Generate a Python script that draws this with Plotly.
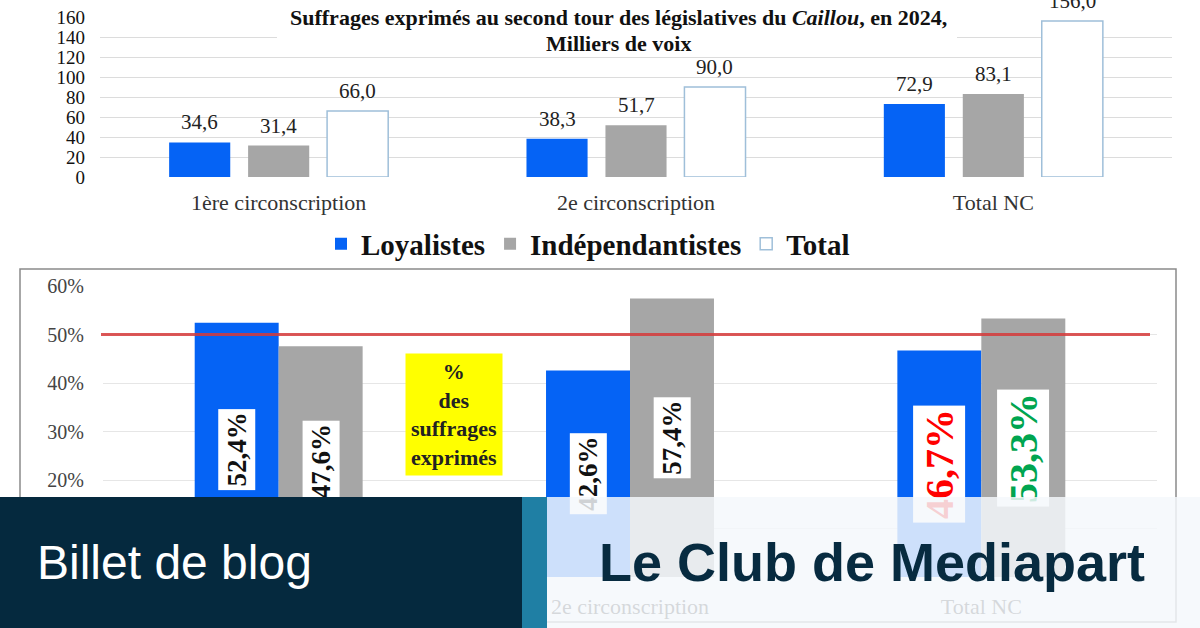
import plotly.graph_objects as go

# ---------------- data ----------------
categories = ["1ère circonscription", "2e circonscription", "Total NC"]
series_names = ["Loyalistes", "Indépendantistes", "Total"]
voix_loyalistes = [34.6, 38.3, 72.9]
voix_independantistes = [31.4, 51.7, 83.1]
voix_total = [66.0, 90.0, 156.0]
pct_loyalistes = [0.524, 0.426, 0.467]
pct_independantistes = [0.476, 0.574, 0.533]
voix_ticks = [0, 20, 40, 60, 80, 100, 120, 140, 160]
pct_ticks = [0, 0.1, 0.2, 0.3, 0.4, 0.5, 0.6]
majority = 0.5
title_line1 = "Suffrages exprimés au second tour des législatives du <i>Caillou</i>, en 2024,"
title_line2 = "Milliers de voix"
note_text = "%<br>des<br>suffrages<br>exprimés"
banner_left = "Billet de blog"
banner_right = "Le Club de Mediapart"

# ---------------- style ----------------
W, H = 1200, 628
BLUE = "#0563F5"
GREY = "#A6A6A6"
TOTAL_LINE = "#9FBFD9"
GRID = "#DCDCDC"
SERIF = "Liberation Serif, Times New Roman, serif"
SANS = "Liberation Sans, Arial, sans-serif"
NAVY = "#05293E"


def px(x):
    return x / W


def py(y):
    return 1 - y / H


# bar geometry (category units)
top_w = 0.171
top_pitch = 0.221
top_offsets = [-top_pitch - top_w / 2, -top_w / 2, top_pitch - top_w / 2]
bot_w = 0.239
bot_offsets = [-bot_w, 0.0]

fig = go.Figure()

# top chart
top_series = [voix_loyalistes, voix_independantistes, voix_total]
top_markers = [
    dict(color=BLUE, line=dict(width=0)),
    dict(color=GREY, line=dict(width=0)),
    dict(color="white", line=dict(color=TOTAL_LINE, width=1.5)),
]
for i, (name, vals) in enumerate(zip(series_names, top_series)):
    fig.add_trace(go.Bar(
        x=categories, y=vals, name=name, marker=top_markers[i],
        width=top_w, offset=top_offsets[i], xaxis="x", yaxis="y",
        hoverinfo="skip",
    ))

# bottom chart
for i, vals in enumerate([pct_loyalistes, pct_independantistes]):
    fig.add_trace(go.Bar(
        x=categories, y=vals, name=series_names[i], showlegend=False,
        marker=dict(color=[BLUE, GREY][i], line=dict(width=0)),
        width=bot_w, offset=bot_offsets[i], xaxis="x2", yaxis="y2",
        hoverinfo="skip",
    ))

annotations = []

# value labels (top chart)
for i, vals in enumerate(top_series):
    for j, v in enumerate(vals):
        annotations.append(dict(
            x=j + top_offsets[i] + top_w / 2, y=v, xref="x", yref="y",
            text=f"{v:.1f}".replace(".", ","), showarrow=False,
            xanchor="center", yanchor="bottom", yshift=6,
            font=dict(family=SERIF, size=21, color="#222222"),
        ))

# title lines
for txt, ypix in [(title_line1, 17), (title_line2, 44)]:
    annotations.append(dict(x=px(618), y=py(ypix), xref="paper", yref="paper",
                            xanchor="center", yanchor="middle",
                            text=txt, showarrow=False,
                            font=dict(family=SERIF, size=22, color="#111111", weight="bold")))

# rotated percentage labels (bottom chart)
label_colors = [["#111111", "#111111", "#FF0000"], ["#111111", "#111111", "#00A550"]]
label_sizes = [[27, 27, 40], [27, 27, 40]]
for i, vals in enumerate([pct_loyalistes, pct_independantistes]):
    for j, v in enumerate(vals):
        annotations.append(dict(
            x=j + bot_offsets[i] + bot_w / 2, y=v / 2, xref="x2", yref="y2",
            xanchor="center", yanchor="middle",
            text=f"{v * 100:.1f}%".replace(".", ","), showarrow=False,
            textangle=-90, bgcolor="white", borderpad=3,
            font=dict(family=SERIF, size=label_sizes[i][j],
                      color=label_colors[i][j], weight="bold"),
        ))

# yellow note
annotations.append(dict(x=0.5, y=0.335, xref="x2", yref="y2", text=note_text,
                        xanchor="center", yanchor="middle",
                        showarrow=False, bgcolor="#FFFF00", borderpad=5,
                        font=dict(family=SERIF, size=22, color="#222222", weight="bold")))

# banner overlay (drawn last so it covers the charts)
annotations.append(dict(x=0, y=py(497), xref="paper", yref="paper", xanchor="left", yanchor="top",
                        text=" ", showarrow=False, width=522, height=131, borderpad=0,
                        borderwidth=0, bgcolor=NAVY))
annotations.append(dict(x=px(522), y=py(497), xref="paper", yref="paper", xanchor="left", yanchor="top",
                        text=" ", showarrow=False, width=25, height=131, borderpad=0,
                        borderwidth=0, bgcolor="#1F7FA4"))
annotations.append(dict(x=px(547), y=py(497), xref="paper", yref="paper", xanchor="left", yanchor="top",
                        text=" ", showarrow=False, width=653, height=131, borderpad=0,
                        borderwidth=0, bgcolor="rgba(244,248,252,0.84)"))
annotations.append(dict(x=px(35), y=py(562), xref="paper", yref="paper", xanchor="left",
                        yanchor="middle", text=banner_left, showarrow=False,
                        font=dict(family=SANS, size=48, color="white")))
annotations.append(dict(x=px(872), y=py(562), xref="paper", yref="paper", xanchor="center",
                        yanchor="middle", text=banner_right, showarrow=False,
                        font=dict(family=SANS, size=54, color="#072B40", weight="bold")))

shapes = [
    # bottom chart frame
    dict(type="rect", xref="paper", yref="paper", x0=px(20), x1=px(1176), y0=py(622), y1=py(269),
         line=dict(color="#8A8A8A", width=1.5), fillcolor="rgba(0,0,0,0)", layer="below"),
    # white box behind the title
    dict(type="rect", xref="paper", yref="paper", x0=px(277), x1=px(957), y0=py(50), y1=py(0),
         line=dict(width=0), fillcolor="white", layer="above"),
    # 50 % line
    dict(type="line", xref="paper", yref="y2", x0=px(101), x1=px(1150), y0=majority, y1=majority,
         line=dict(color="#D63A3A", width=3), opacity=0.85, layer="above"),
]

fig.update_layout(
    width=W, height=H, autosize=False,
    margin=dict(l=0, r=0, t=0, b=0, autoexpand=False),
    paper_bgcolor="white", plot_bgcolor="white",
    separators=", ",
    barmode="overlay",
    showlegend=True,
    legend=dict(orientation="h", x=0.49, xanchor="center", y=py(244), yanchor="middle",
                font=dict(family=SERIF, size=29, color="#111111", weight="bold"),
                bgcolor="rgba(0,0,0,0)", itemclick=False),
    xaxis=dict(domain=[px(100), px(1172)], anchor="y", type="category", automargin=False,
               showgrid=False, showline=False, zeroline=False, ticks="",
               ticklabelstandoff=10,
               tickfont=dict(family=SERIF, size=22, color="#333333")),
    yaxis=dict(domain=[py(177), py(17)], anchor="x", range=[0, 160], automargin=False,
               tickvals=voix_ticks, showgrid=True, gridcolor=GRID, gridwidth=1,
               zeroline=False, showline=False, ticks="", ticklabelstandoff=14,
               tickfont=dict(family=SERIF, size=19, color="#111111")),
    xaxis2=dict(domain=[px(103), px(1157)], anchor="y2", type="category", automargin=False,
                showgrid=False, showline=False, zeroline=False, ticks="",
                ticklabelstandoff=14,
                tickfont=dict(family=SERIF, size=22, color="#333333")),
    yaxis2=dict(domain=[py(577), py(286)], anchor="x2", range=[0, 0.6], automargin=False,
                tickvals=pct_ticks, tickformat=".0%", showgrid=True, gridcolor="#E6E6E6",
                zeroline=False, showline=False, ticks="", ticklabelstandoff=18,
                tickfont=dict(family=SERIF, size=20, color="#444444")),
    annotations=annotations,
    shapes=shapes,
)

fig.write_html("out.html")
